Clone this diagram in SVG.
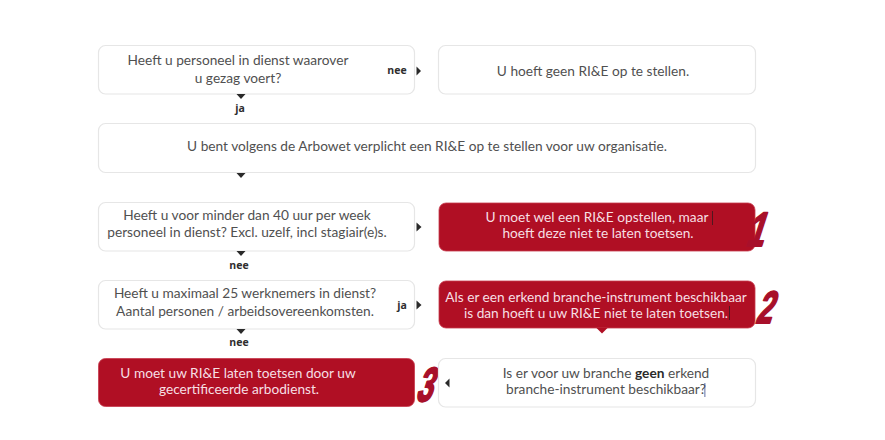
<svg xmlns="http://www.w3.org/2000/svg" width="885" height="440" viewBox="0 0 885 440">
<style>
.wb{fill:#ffffff;stroke:#e6e6e6;stroke-width:1.2}
.rb{fill:#b00f24;stroke:#c73a4c;stroke-width:0.8}
.t{font-family:Lato,"Open Sans",sans-serif;font-size:13.7px;fill:#505050;text-anchor:middle}
.tr{font-family:Lato,"Open Sans",sans-serif;font-size:13.7px;fill:#f6dfe3;text-anchor:middle}
.lb{font-family:"Open Sans","DejaVu Sans",sans-serif;font-size:10.5px;font-weight:bold;fill:#2e2e2e;text-anchor:middle}
.num{font-family:"Liberation Sans",sans-serif;font-weight:bold;font-size:48px;fill:#a8102a;stroke:#a8102a;stroke-width:2.2;stroke-linejoin:round}
.ar{fill:#2a2a2a}
</style>
<rect width="885" height="440" fill="#ffffff"/>
<g id="q1">
<rect class="wb" x="98.5" y="45.5" width="316" height="48.5" rx="7"/>
<text class="t" x="238" y="65">Heeft u personeel in dienst waarover</text>
<text class="t" x="238" y="83">u gezag voert?</text>
</g>
<g id="geen">
<rect class="wb" x="438.5" y="45.5" width="317" height="48.5" rx="7"/>
<text class="t" x="593" y="76">U hoeft geen RI&amp;E op te stellen.</text>
</g>
<g id="verplicht">
<rect class="wb" x="98.5" y="123.5" width="657" height="49" rx="7"/>
<text class="t" x="427" y="151">U bent volgens de Arbowet verplicht een RI&amp;E op te stellen voor uw organisatie.</text>
</g>
<g id="q2">
<rect class="wb" x="98.5" y="202.5" width="316" height="48.5" rx="7"/>
<text class="t" x="247" y="220">Heeft u voor minder dan 40 uur per week</text>
<text class="t" x="247" y="237">personeel in dienst? Excl. uzelf, incl stagiair(e)s.</text>
</g>
<g id="r1">
<rect class="rb" x="439" y="203" width="316" height="48" rx="7"/>
<text class="tr" x="597" y="222">U moet wel een RI&amp;E opstellen, maar</text>
<text class="tr" x="598" y="238">hoeft deze niet te laten toetsen.</text>
<rect x="712" y="211" width="0.8" height="14" fill="#3a1a1e"/>
<text class="num" transform="translate(745 246) skewX(-18) scale(0.66 1)">1</text>
</g>
<g id="q3">
<rect class="wb" x="98.5" y="280.5" width="316" height="48.5" rx="7"/>
<text class="t" x="245" y="298">Heeft u maximaal 25 werknemers in dienst?</text>
<text class="t" x="245" y="316">Aantal personen / arbeidsovereenkomsten.</text>
</g>
<g id="r2">
<rect class="rb" x="439" y="281" width="316" height="47" rx="7"/>
<text class="tr" x="596" y="302">Als er een erkend branche-instrument beschikbaar</text>
<text class="tr" x="596" y="318">is dan hoeft u uw RI&amp;E niet te laten toetsen.</text>
<rect x="729" y="306" width="0.8" height="14" fill="#3a1a1e"/>
<text class="num" transform="translate(755 323) skewX(-18) scale(0.6 0.95)">2</text>
</g>
<g id="r3">
<rect class="rb" x="98.5" y="358.5" width="316" height="48" rx="7"/>
<text class="tr" x="238" y="378">U moet uw RI&amp;E laten toetsen door uw</text>
<text class="tr" x="239" y="394">gecertificeerde arbodienst.</text>
<text class="num" transform="translate(415 401) skewX(-18) scale(0.6 1)">3</text>
</g>
<g id="q4">
<rect class="wb" x="438.5" y="358.5" width="317" height="48.5" rx="7"/>
<text class="t" x="606" y="378">Is er voor uw branche <tspan font-weight="bold" fill="#2a2a2a">geen</tspan> erkend</text>
<text class="t" x="606" y="394">branche-instrument beschikbaar?</text>
<rect x="704.5" y="383" width="0.8" height="14" fill="#3a4a8a"/>
</g>
<g id="connectors">
<polygon class="ar" points="236.5,94 245.5,94 241,99"/>
<polygon class="ar" points="236.5,173 245.5,173 241,178"/>
<polygon class="ar" points="236.5,251 245.5,251 241,256"/>
<polygon class="ar" points="236.5,329 245.5,329 241,334"/>
<polygon class="ar" points="416.5,66.5 416.5,75.5 421,71"/>
<polygon class="ar" points="416.5,222.5 416.5,231.5 421.5,227"/>
<polygon class="ar" points="416.5,300.5 416.5,309.5 421.5,305"/>
<polygon class="ar" points="449.5,378.5 449.5,387.5 445,383"/>
<polygon fill="#b00f24" points="596.5,328 607.5,328 602,333.5"/>
<text class="lb" x="240" y="112">ja</text>
<text class="lb" x="397" y="74">nee</text>
<text class="lb" x="239" y="269">nee</text>
<text class="lb" x="402" y="309">ja</text>
<text class="lb" x="239" y="346">nee</text>
</g>
</svg>
